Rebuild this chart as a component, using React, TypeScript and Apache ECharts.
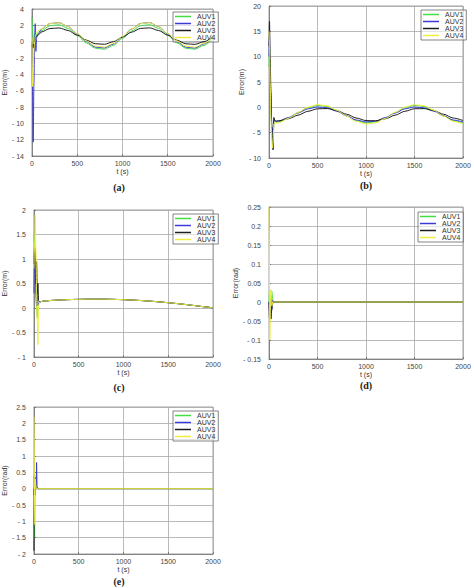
import * as echarts from 'echarts';
import { useEffect, useRef } from 'react';

const NAMES = ['AUV1', 'AUV2', 'AUV3', 'AUV4'];
const COLORS = ['#44dd44', '#3a3ad8', '#1e1e1e', '#eeee40'];
const CAPTIONS = ['(a)', '(b)', '(c)', '(d)', '(e)'];
const Y_NAMES = ['Error(m)', 'Error(m)', 'Error(m)', 'Error(rad)', 'Error(rad)'];

// (a) position error
const tA = [0, 7, 14, 22, 30, 36, 43, 52, 65, 80, 100, 200, 300, 400, 500, 600, 700, 800, 900, 1000,
  1100, 1200, 1300, 1400, 1500, 1600, 1700, 1800, 1900, 2000];
const a1 = [3.0, 1.5, -0.3, 0.5, 1.0, 0.8, 0.4, 0.9, 1.1, 1.2, 1.31, 1.96, 2.07, 1.61, 0.76, -0.15, -0.8, -0.93, -0.45, 0.4,
  1.3, 1.95, 2.08, 1.62, 0.77, -0.14, -0.81, -0.92, -0.46, 0.41];
const a2 = [0.0, -6.0, -12.3, -5.0, 0.5, 2.2, -1.2, 0.5, 0.9, 1.1, 1.54, 2.22, 2.33, 1.85, 0.97, 0.02, -0.66, -0.77, -0.29, 0.59,
  1.53, 2.23, 2.34, 1.84, 0.96, 0.03, -0.67, -0.78, -0.28, 0.58];
const a3 = [-0.5, -0.7, -0.3, -0.8, 0.2, 0.5, 0.6, 0.7, 0.8, 0.9, 1.17, 1.61, 1.68, 1.37, 0.8, 0.19, -0.25, -0.32, -0.01, 0.56,
  1.16, 1.62, 1.69, 1.36, 0.81, 0.18, -0.26, -0.33, 0.0, 0.6];
const a4 = [0.5, -5.5, -3.0, -1.0, 0.0, 0.6, 0.9, 1.1, 1.3, 1.4, 1.56, 2.21, 2.32, 1.86, 1.01, 0.1, -0.55, -0.66, -0.2, 0.65,
  1.55, 2.2, 2.33, 1.87, 1.0, 0.11, -0.56, -0.67, -0.21, 0.64];

// (b) position error
const tB = [0, 5, 12, 20, 28, 35, 42, 50, 60, 75, 100, 200, 300, 400, 500, 600, 700, 800, 900, 1000,
  1100, 1200, 1300, 1400, 1500, 1600, 1700, 1800, 1900, 2000];
const b1 = [8, 12, 6, 0, -4, -7, -7.5, -3.0, -2.8, -2.9, -2.87, -2.09, -1.02, -0.07, 0.38, 0.17, -0.62, -1.68, -2.63, -3.08,
  -2.86, -2.1, -1.03, -0.06, 0.39, 0.16, -0.63, -1.69, -2.62, -3.07];
const b2 = [10, 14, 8, 1, -5, -4, -5, -2.5, -2.7, -2.8, -2.71, -2.03, -1.12, -0.31, 0.09, -0.1, -0.77, -1.69, -2.5, -2.89,
  -2.72, -2.02, -1.13, -0.3, 0.08, -0.11, -0.76, -1.7, -2.51, -2.88];
const b3 = [12, 17, 10, 3, -3, -6, -8.4, -2.0, -2.6, -2.7, -2.66, -2.25, -1.54, -0.79, -0.29, -0.24, -0.65, -1.36, -2.11, -2.61,
  -2.65, -2.26, -1.55, -0.78, -0.28, -0.25, -0.66, -1.37, -2.12, -2.6];
const b4 = [15, 13, 5, -2, -6, -8, -7, -3.2, -3.1, -3.1, -3.06, -2.19, -1.01, 0.03, 0.53, 0.3, -0.57, -1.75, -2.79, -3.29,
  -3.05, -2.2, -1.0, 0.04, 0.52, 0.31, -0.58, -1.76, -2.78, -3.28];

// (c) position error
const tC = [0, 8, 15, 22, 30, 38, 45, 52, 65, 80, 100, 200, 300, 400, 500, 600, 700, 800, 900, 1000,
  1100, 1200, 1300, 1400, 1500, 1600, 1700, 1800, 1900, 2000];
const c1 = [1.5, 1.3, 0.9, 0.4, 0.0, -0.2, 0.0, 0.1, 0.12, 0.13, 0.14, 0.155, 0.165, 0.172, 0.177, 0.18, 0.181, 0.18, 0.176, 0.17,
  0.162, 0.152, 0.14, 0.125, 0.108, 0.09, 0.07, 0.048, 0.025, 0.0];
const c2 = [0.3, 1.2, 0.8, 0.3, 0.05, 0.3, 0.05, 0.1, 0.12, 0.13, 0.141, 0.156, 0.166, 0.173, 0.178, 0.181, 0.182, 0.181, 0.177, 0.171,
  0.163, 0.153, 0.141, 0.126, 0.109, 0.091, 0.071, 0.049, 0.026, 0.001];
const c3 = [0.9, 1.25, 0.8, 0.5, 0.95, 0.3, 0.5, 0.15, 0.12, 0.13, 0.139, 0.154, 0.164, 0.171, 0.176, 0.179, 0.18, 0.179, 0.175, 0.169,
  0.161, 0.151, 0.139, 0.124, 0.107, 0.089, 0.069, 0.047, 0.024, 0.0];
const c4 = [0.8, 1.3, 1.9, 1.2, 0.3, -0.3, -0.75, 0.05, 0.12, 0.13, 0.14, 0.155, 0.165, 0.172, 0.177, 0.18, 0.181, 0.18, 0.176, 0.17,
  0.162, 0.152, 0.14, 0.125, 0.108, 0.09, 0.07, 0.048, 0.025, 0.0];

// (d) heading error
const tD = [0, 4, 8, 12, 16, 20, 25, 30, 36, 42, 50, 60, 2000];
const d1 = [0, 0.028, 0.03, 0.027, 0.03, 0.025, 0.03, 0.028, 0.01, 0, 0, 0, 0];
const d2 = [0, -0.02, -0.03, 0.0, 0.01, 0.02, 0.015, -0.02, 0.005, 0.002, 0, 0, 0];
const d3 = [0, -0.04, -0.045, -0.035, -0.02, -0.045, -0.03, -0.01, -0.005, 0, 0, 0, 0];
const d4 = [0.25, 0.15, -0.1, -0.05, 0.03, 0.02, 0.03, -0.01, 0.0, 0, 0, 0, 0];

// (e) heading error
const tE = [0, 4, 8, 12, 16, 20, 25, 30, 35, 42, 50, 2000];
const e1 = [0.4, -1.2, -1.5, 0.3, 0.35, 0.05, 0, 0, 0, 0, 0, 0];
const e2 = [0, -0.2, 0.1, 0.25, 0.05, 0.3, 0.1, 0.8, 0.05, 0.02, 0, 0];
const e3 = [-1.9, -0.6, 0.35, 0.2, -0.2, 0.1, 0, 0, 0, 0, 0, 0];
const e4 = [2.2, 1.0, -0.6, -1.1, 0.3, 0.1, 0, 0, 0, 0, 0, 0];

const PANELS = [
  { t: tA, ys: [a1, a2, a3, a4], min: -14, max: 4, step: 2, smooth: true },
  { t: tB, ys: [b1, b2, b3, b4], min: -10, max: 20, step: 5, smooth: true },
  { t: tC, ys: [c1, c2, c3, c4], min: -1, max: 2, step: 0.5, smooth: true },
  { t: tD, ys: [d1, d2, d3, d4], min: -0.15, max: 0.25, step: 0.05, smooth: false },
  { t: tE, ys: [e1, e2, e3, e4], min: -2, max: 2.5, step: 0.5, smooth: false },
];

// layout of each panel: plot box, legend corner, caption position, name gaps
const GRIDS = [
  { left: 26, top: 9, width: 187, height: 147 },
  { left: 269, top: 6, width: 194, height: 152 },
  { left: 26, top: 210, width: 187, height: 147 },
  { left: 269, top: 207, width: 194, height: 152 },
  { left: 26, top: 407, width: 187, height: 147 },
];
const LEGEND_POS = [
  [173, 12], [421, 10], [173, 214], [418, 212], [173, 411],
];
const CAPTION_POS = [
  [119, 187], [366, 185], [119, 387], [366, 385], [119, 581],
];
const Y_GAPS = [17, 20, 18, 23, 19];
const X_GAPS = [9, 10, 10, 11, 9];

const FONT = '"Liberation Sans", Arial, sans-serif';

const fmt = (v: number) => {
  const r = parseFloat(v.toFixed(3));
  return r < 0 ? '- ' + String(-r) : String(r);
};

const App = () => {
  const chartRef = useRef<HTMLDivElement>(null);

  useEffect(() => {
    if (chartRef.current === null) return;
    const chart = echarts.init(chartRef.current, undefined, { renderer: 'svg' });

    const xAxis = PANELS.map((_, i) => ({
      type: 'value',
      gridIndex: i,
      min: 0,
      max: 2000,
      interval: 500,
      name: 't (s)',
      nameLocation: 'middle',
      nameGap: X_GAPS[i],
      nameTextStyle: { fontSize: 7, color: '#333', fontFamily: FONT },
      axisLine: { show: true, onZero: false, lineStyle: { color: '#777', width: 0.8 } },
      axisTick: { show: true, inside: true, length: 2, lineStyle: { color: '#777' } },
      axisLabel: { fontSize: 7, color: '#444', margin: 4, fontFamily: FONT, formatter: fmt },
      splitLine: { show: true, lineStyle: { color: '#a8a8a8', width: 0.8 } },
    }));

    const yAxis = PANELS.map((p, i) => ({
      type: 'value',
      gridIndex: i,
      min: p.min,
      max: p.max,
      interval: p.step,
      name: Y_NAMES[i],
      nameLocation: 'middle',
      nameGap: Y_GAPS[i],
      nameTextStyle: { fontSize: 7, color: '#333', fontFamily: FONT },
      axisLine: { show: true, lineStyle: { color: '#777', width: 0.8 } },
      axisTick: { show: true, inside: true, length: 2, lineStyle: { color: '#777' } },
      axisLabel: { fontSize: 7, color: '#444', margin: 8, fontFamily: FONT, formatter: fmt },
      splitLine: { show: true, lineStyle: { color: '#a8a8a8', width: 0.8 } },
    }));

    const series = PANELS.flatMap((p, i) =>
      p.ys.map((vals, k) => ({
        type: 'line',
        name: NAMES[k],
        xAxisIndex: i,
        yAxisIndex: i,
        data: p.t.map((t, j) => [t, vals[j]]),
        smooth: p.smooth ? 0.3 : false,
        smoothMonotone: 'x',
        symbol: 'none',
        lineStyle: { color: COLORS[k], width: 1 },
        itemStyle: { color: COLORS[k] },
        z: 2 + k,
      }))
    );

    const legend = LEGEND_POS.map(([x, y]) => ({
      data: NAMES,
      orient: 'vertical',
      left: x,
      top: y,
      icon: 'rect',
      itemWidth: 16,
      itemHeight: 1.5,
      itemGap: 0,
      padding: [1, 3, 1, 2],
      borderColor: '#666',
      borderWidth: 0.8,
      backgroundColor: 'rgba(255,255,255,0.6)',
      textStyle: { fontSize: 7, lineHeight: 7, color: '#333', fontFamily: FONT, padding: [0, 0, 0, 1] },
      selectedMode: false,
    }));

    const graphic = CAPTION_POS.map(([x, y], i) => ({
      type: 'text',
      x,
      y,
      style: {
        text: CAPTIONS[i],
        fontSize: 10,
        fontWeight: 'bold',
        fontFamily: '"Liberation Serif", "Times New Roman", serif',
        fill: '#222',
        textAlign: 'center',
        textVerticalAlign: 'middle',
      },
    }));

    chart.setOption({
      animation: false,
      backgroundColor: '#fff',
      grid: GRIDS.map((g) => ({ ...g, show: true, borderColor: '#888', borderWidth: 0.8, backgroundColor: '#fff' })),
      xAxis,
      yAxis,
      legend,
      series,
      graphic,
    });

    return () => {
      chart.dispose();
    };
  }, []);

  return (
    <div
      ref={chartRef}
      style={{ position: 'absolute', left: 0, top: 0, width: 474, height: 588 }}
    ></div>
  );
};

export default App;
